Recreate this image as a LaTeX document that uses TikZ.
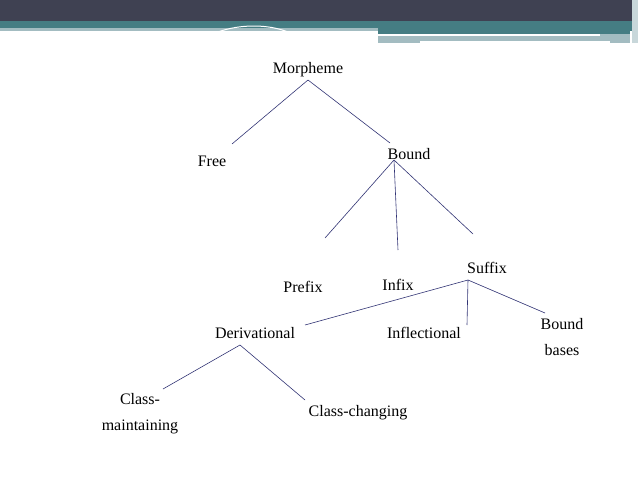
\documentclass[tikz,border=0pt]{standalone}
\usepackage{fontspec}
\setmainfont{Liberation Serif}
\definecolor{dark}{HTML}{3F4152}
\definecolor{teal}{HTML}{457D83}
\definecolor{pale}{HTML}{A3BCC1}
\begin{document}
\begin{tikzpicture}[x=1pt,y=-1pt,
  lab/.style={font=\fontsize{16}{26}\selectfont,align=center,inner sep=0pt},
  edge/.style={draw=dark!80!blue,line width=0.6pt}]
\useasboundingbox (0,0) rectangle (638,479);
\fill[white] (0,0) rectangle (638,479);
\fill[teal] (0,21) rectangle (638,31);
\fill[pale] (0,28) rectangle (378,31);
\fill[teal] (378,21) rectangle (630,34);
\fill[pale] (378,34) rectangle (630,43);
\fill[white] (378,34) rectangle (600,36);
\fill[white] (420,41) rectangle (610,43);
\fill[dark] (0,0) rectangle (638,21);
\fill[pale!60] (632,0) rectangle (638,43);
\draw[white,line width=1pt] (218,32) .. controls (240,24) and (268,24) .. (288,32);
\node[lab] (morph) at (308,70) {Morpheme};
\node[lab] (free) at (212,161) {Free};
\node[lab] (bound) at (409,154) {Bound};
\node[lab] (prefix) at (303,287) {Prefix};
\node[lab] (infix) at (398,285) {Infix};
\node[lab] (suffix) at (487,268) {Suffix};
\node[lab] (deriv) at (255,333) {Derivational};
\node[lab] (infl) at (424,333) {Inflectional};
\node[lab] (bb) at (562,337) {Bound\\bases};
\node[lab] (cm) at (140,414) {Class-\\maintaining};
\node[lab] (cc) at (358,413) {Class-changing};
\coordinate (m0) at (308,80);
\coordinate (f1) at (232,144);
\coordinate (b1) at (390,143);
\coordinate (b0) at (394,160);
\coordinate (p1) at (325,238);
\coordinate (i1) at (398,250);
\coordinate (s1) at (473,234);
\coordinate (s0) at (468,280);
\coordinate (d1) at (305,325);
\coordinate (n1) at (467,325);
\coordinate (bb1) at (545,313);
\coordinate (d0) at (240,345);
\coordinate (cm1) at (163,389);
\coordinate (cc1) at (305,400);
\draw[edge] (m0) -- (f1);
\draw[edge] (m0) -- (b1);
\draw[edge] (b0) -- (p1);
\draw[edge] (b0) -- (i1);
\draw[edge] (b0) -- (s1);
\draw[edge] (s0) -- (d1);
\draw[edge] (s0) -- (n1);
\draw[edge] (s0) -- (bb1);
\draw[edge] (d0) -- (cm1);
\draw[edge] (d0) -- (cc1);
\end{tikzpicture}
\end{document}
